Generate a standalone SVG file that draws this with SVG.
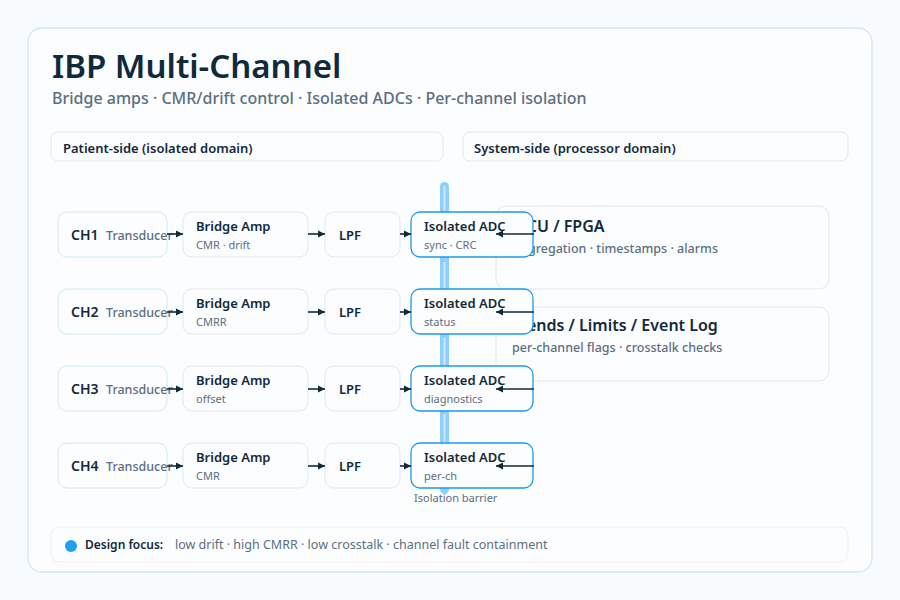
<svg xmlns="http://www.w3.org/2000/svg" width="900" height="600" viewBox="0 0 900 600">
<defs>
<marker id="ah" markerWidth="8" markerHeight="8" refX="7" refY="4" orient="auto" markerUnits="userSpaceOnUse"><path d="M0,0.5 L7,4 L0,7.5 Z" fill="#13293a"/></marker>
<style>
text{font-family:"Noto Sans","DejaVu Sans",sans-serif}
.box{fill:#fbfdfe;stroke:#e2e8ee;stroke-width:1}
.ch{fill:#fbfdfe;stroke:#cfe8f6;stroke-width:1}
.adc{fill:#fbfdfe;stroke:#1e9be6;stroke-width:1.3}
.t{font-size:13px;font-weight:600;fill:#13293a}
.s{font-size:11px;fill:#5c6f82}
.big{font-size:14px;font-weight:600;fill:#13293a}
.tr{font-size:12.5px;font-weight:500;fill:#5c6f82}
.conn{stroke:#13293a;stroke-width:1.6;fill:none;marker-end:url(#ah)}
</style>
</defs>
<rect width="900" height="600" fill="#f8fbfd"/>
<rect x="28" y="28" width="844" height="544" rx="14" fill="#fcfdfe" stroke="#d2e6f1" stroke-width="1.3"/>
<text x="52" y="78" font-size="33" font-weight="600" fill="#0f2a3d">IBP Multi-Channel</text>
<text x="52" y="104" font-size="16" font-weight="500" fill="#5a6f82">Bridge amps · CMR/drift control · Isolated ADCs · Per-channel isolation</text>
<rect x="51" y="132" width="392" height="29" rx="7" class="box"/>
<text x="63" y="153" class="t">Patient-side (isolated domain)</text>
<rect x="463" y="132" width="385" height="29" rx="7" class="box"/>
<text x="474" y="153" class="t">System-side (processor domain)</text>
<g id="barrier">
<rect x="440" y="182" width="9" height="312" rx="4.5" fill="#8dd0fb"/>
<line x1="444.5" y1="186" x2="444.5" y2="490" stroke="#c6e9fe" stroke-width="2" stroke-dasharray="70 6"/>
<text x="414" y="502" font-size="11" fill="#5c6f82">Isolation barrier</text>
</g>
<g id="mcu"><rect x="496" y="206" width="333" height="83" rx="10" class="box"/>
<text x="512" y="232" font-size="16" font-weight="600" fill="#13293a">MCU / FPGA</text>
<text x="512" y="253" font-size="12.5" font-weight="500" fill="#5c6f82">Aggregation · timestamps · alarms</text></g>
<g id="trends"><rect x="496" y="307" width="333" height="74" rx="10" class="box"/>
<text x="512" y="331" font-size="16" font-weight="600" fill="#13293a">Trends / Limits / Event Log</text>
<text x="512" y="352" font-size="12.5" font-weight="500" fill="#5c6f82">per-channel flags · crosstalk checks</text></g>
<g id="ch1"><rect x="58" y="212" width="109" height="45" rx="9" class="ch"/><text x="71" y="240" class="big">CH1</text><text x="106" y="240" class="tr">Transducer</text></g>
<g id="ch2"><rect x="58" y="289" width="109" height="45" rx="9" class="ch"/><text x="71" y="317" class="big">CH2</text><text x="106" y="317" class="tr">Transducer</text></g>
<g id="ch3"><rect x="58" y="366" width="109" height="45" rx="9" class="ch"/><text x="71" y="394" class="big">CH3</text><text x="106" y="394" class="tr">Transducer</text></g>
<g id="ch4"><rect x="58" y="443" width="109" height="45" rx="9" class="ch"/><text x="71" y="471" class="big">CH4</text><text x="106" y="471" class="tr">Transducer</text></g>
<g id="amp1"><rect x="183" y="212" width="125" height="45" rx="9" class="box"/><text x="196" y="231" class="t">Bridge Amp</text><text x="196" y="249" class="s">CMR · drift</text></g>
<g id="amp2"><rect x="183" y="289" width="125" height="45" rx="9" class="box"/><text x="196" y="308" class="t">Bridge Amp</text><text x="196" y="326" class="s">CMRR</text></g>
<g id="amp3"><rect x="183" y="366" width="125" height="45" rx="9" class="box"/><text x="196" y="385" class="t">Bridge Amp</text><text x="196" y="403" class="s">offset</text></g>
<g id="amp4"><rect x="183" y="443" width="125" height="45" rx="9" class="box"/><text x="196" y="462" class="t">Bridge Amp</text><text x="196" y="480" class="s">CMR</text></g>
<g id="lpf1"><rect x="325" y="212" width="75" height="45" rx="9" class="box"/><text x="339" y="240" class="t">LPF</text></g>
<g id="lpf2"><rect x="325" y="289" width="75" height="45" rx="9" class="box"/><text x="339" y="317" class="t">LPF</text></g>
<g id="lpf3"><rect x="325" y="366" width="75" height="45" rx="9" class="box"/><text x="339" y="394" class="t">LPF</text></g>
<g id="lpf4"><rect x="325" y="443" width="75" height="45" rx="9" class="box"/><text x="339" y="471" class="t">LPF</text></g>
<g id="adc1"><rect x="411" y="212" width="122" height="45" rx="9" class="adc"/><text x="424" y="231" class="t">Isolated ADC</text><text x="424" y="249" class="s">sync · CRC</text></g>
<g id="adc2"><rect x="411" y="289" width="122" height="45" rx="9" class="adc"/><text x="424" y="308" class="t">Isolated ADC</text><text x="424" y="326" class="s">status</text></g>
<g id="adc3"><rect x="411" y="366" width="122" height="45" rx="9" class="adc"/><text x="424" y="385" class="t">Isolated ADC</text><text x="424" y="403" class="s">diagnostics</text></g>
<g id="adc4"><rect x="411" y="443" width="122" height="45" rx="9" class="adc"/><text x="424" y="462" class="t">Isolated ADC</text><text x="424" y="480" class="s">per-ch</text></g>
<g id="connectors">
<path class="conn" d="M167,234 H183"/><path class="conn" d="M308,234 H325"/><path class="conn" d="M400,234 H411"/><path class="conn" d="M534,234 H496"/>
<path class="conn" d="M167,312 H183"/><path class="conn" d="M308,312 H325"/><path class="conn" d="M400,312 H411"/><path class="conn" d="M534,312 H496"/>
<path class="conn" d="M167,389 H183"/><path class="conn" d="M308,389 H325"/><path class="conn" d="M400,389 H411"/><path class="conn" d="M534,389 H496"/>
<path class="conn" d="M167,466 H183"/><path class="conn" d="M308,466 H325"/><path class="conn" d="M400,466 H411"/><path class="conn" d="M534,466 H496"/>
</g>
<g id="footer">
<rect x="51" y="527" width="797" height="35" rx="8" fill="#fcfdfe" stroke="#eef2f5"/>
<circle cx="71" cy="546" r="6" fill="#1da1f2"/>
<text x="85" y="549" font-size="12" font-weight="600" fill="#13293a">Design focus:</text>
<text x="175" y="549" font-size="12.5" fill="#5c6f82">low drift · high CMRR · low crosstalk · channel fault containment</text>
</g>
</svg>
